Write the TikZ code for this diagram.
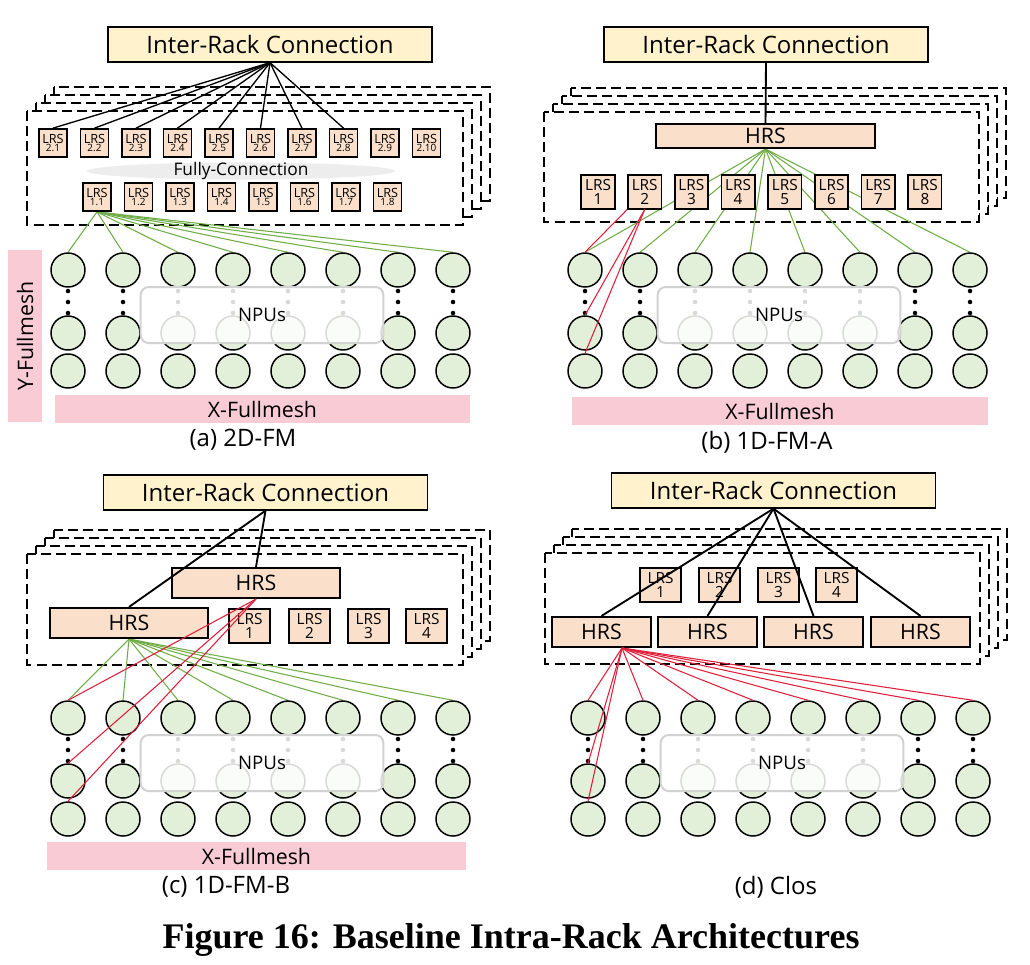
\documentclass[tikz,border=0pt]{standalone}
\usepackage{fontspec}
\setmainfont{Open Sans}
\newfontfamily\titlefont{Liberation Serif}
\definecolor{npug}{HTML}{E2F0D9}
\definecolor{peach}{HTML}{FAE0CB}
\definecolor{ylw}{HTML}{FFF2CC}
\definecolor{pinkb}{HTML}{F8CBD5}
\definecolor{gline}{HTML}{70AD47}
\definecolor{rline}{HTML}{E0203A}
\pgfdeclarelayer{bg}\pgfdeclarelayer{ln}\pgfsetlayers{bg,ln,main}
\tikzset{
 inter/.style={draw,line width=1.2pt,fill=ylw,minimum width=243pt,minimum height=26pt,inner sep=0,font=\fontsize{18}{20}\selectfont},
 lrsa/.style={draw,line width=1.3pt,fill=peach,inner sep=0,align=center,minimum size=21pt,font=\fontsize{9.5}{8}\selectfont},
 lrsb/.style={draw,line width=1.3pt,fill=peach,inner sep=0,align=center,minimum size=25pt,font=\fontsize{11.5}{11}\selectfont},
 lrsc/.style={draw,line width=1.3pt,fill=peach,inner sep=0,align=center,minimum width=31pt,minimum height=25.5pt,font=\fontsize{11.5}{11}\selectfont},
 hrs/.style={draw,line width=1.6pt,fill=peach,inner sep=0,minimum height=22.5pt,font=\fontsize{16}{18}\selectfont},
 dbox/.style={draw,line width=1.6pt,dash pattern=on 7.5pt off 3.8pt,fill=white},
 npu/.style={circle,draw,line width=1.1pt,fill=npug,minimum size=25.5pt,inner sep=0},
 nbox/.style={draw=gray!35,line width=1.5pt,rounded corners=6pt,fill=white,fill opacity=0.85,text opacity=1,minimum width=182pt,minimum height=42pt,font=\fontsize{14}{16}\selectfont},
 xbar/.style={fill=pinkb,inner sep=0,minimum height=21pt,font=\fontsize{16}{18}\selectfont},
 captxt/.style={font=\fontsize{18}{20}\selectfont},
 blk/.style={line width=1.4pt},
 gl/.style={gline,line width=0.8pt},
 rl/.style={rline,line width=0.8pt}
}
\newcommand\stackbox[4]{%
 \begin{pgfonlayer}{bg}
 \foreach \k in {3,2,1,0}{\draw[dbox] ({#1+9*\k},{#2-8*\k}) rectangle ({#3+9*\k},{#4-8*\k});}
 \end{pgfonlayer}}
\newcommand\npugrid[3]{%
 \foreach \c in {1,...,8}{
  \node[npu] (#1-1-\c) at ({#2+55*(\c-1)},#3) {};
  \node[npu] (#1-2-\c) at ({#2+55*(\c-1)},{#3+63}) {};
  \node[npu] (#1-3-\c) at ({#2+55*(\c-1)},{#3+101}) {};
  \foreach \d in {21,32,43}\fill ({#2+55*(\c-1)},{#3+\d}) circle[radius=1.7pt];
 }
 \node[nbox] (#1-box) at ({#2+194},{#3+45}) {NPUs};}
\begin{document}
\begin{tikzpicture}[x=0.75pt,y=-0.75pt]
\useasboundingbox (0,0) rectangle (1030,964);
% ---------- (a)
\node[inter] (a-ir) at (270,44.5) {Inter-Rack Connection};
\stackbox{27}{111}{463}{225}
\fill[gray!14] (241,171) ellipse [x radius=115.5pt, y radius=6.4pt];
\node[font=\fontsize{13}{14}\selectfont] (a-fc) at (241,171) {Fully-Connection};
\foreach \i in {1,...,10}{\node[lrsa] (a-l2-\i) at ({53+41.5*(\i-1)},143) {LRS\\[-2pt]{\fontsize{7.5}{7}\selectfont 2.\i}};}
\foreach \i in {1,...,8}{\node[lrsa] (a-l1-\i) at ({97+41.5*(\i-1)},197) {LRS\\[-2pt]{\fontsize{7.5}{7}\selectfont 1.\i}};}
\npugrid{a}{68}{270}
\begin{pgfonlayer}{ln}
\foreach \c in {1,...,8}{\draw[gl] (a-l1-1.south) -- (a-1-\c.north);}
\foreach \i in {1,...,8}{\draw[line width=1pt] (a-ir.south) -- (a-l2-\i.north);}
\end{pgfonlayer}
\node[xbar,minimum width=129pt,minimum height=25.5pt,rotate=90] (a-y) at (25,336) {Y-Fullmesh};
\node[xbar,minimum width=311pt] (a-x) at (262.5,409) {X-Fullmesh};
\node[captxt] (a-cap) at (243,440) {(a) 2D-FM};
% ---------- (b)
\node[inter] (b-ir) at (766,44.5) {Inter-Rack Connection};
\stackbox{544}{112}{979}{222}
\node[hrs,minimum width=164pt,minimum height=18pt] (b-hrs) at (765.5,136) {HRS};
\foreach \i in {1,...,8}{\node[lrsb] (b-l-\i) at ({598+46.7*(\i-1)},192) {LRS\\[-1pt]\i};}
\npugrid{b}{585}{270}
\draw[blk] (b-ir.south) -- (b-hrs.north);
\begin{pgfonlayer}{ln}
\foreach \c in {1,...,8}{\draw[gl] (b-hrs.south) -- (b-1-\c.north);}
\end{pgfonlayer}
\draw[rl] (b-l-2.south west) -- (b-1-1.north);
\draw[rl] (b-l-2.south) -- (b-2-1.north);
\draw[rl] (b-l-2.south) -- (b-3-1.north);
\node[xbar,minimum width=312pt] (b-x) at (780,411) {X-Fullmesh};
\node[captxt] (b-cap) at (767,442) {(b) 1D-FM-A};
% ---------- (c)
\node[inter] (c-ir) at (265.5,492.5) {Inter-Rack Connection};
\stackbox{27}{554}{463}{665}
\foreach \i/\x in {1/249.5,2/309.5,3/368.5,4/426.5}{\node[lrsc] (c-l-\i) at (\x,626) {LRS\\[-1pt]\i};}
\node[hrs,minimum width=126pt] (c-hu) at (256,583) {HRS};
\node[hrs,minimum width=118.5pt] (c-hl) at (129,623) {HRS};
\npugrid{c}{68}{718}
\draw[blk] (c-ir.south) -- (c-hu.north);
\draw[blk] (c-ir.south) -- (c-hl.north);
\begin{pgfonlayer}{ln}
\foreach \c in {1,...,8}{\draw[gl] (c-hl.south) -- (c-1-\c.north);}
\end{pgfonlayer}
\foreach \r in {1,2,3}{\draw[rl] (c-hu.south) -- (c-\r-1.north);}
\node[xbar,minimum width=314pt] (c-x) at (256.5,856) {X-Fullmesh};
\node[captxt] (c-cap) at (226,887) {(c) 1D-FM-B};
% ---------- (d)
\node[inter] (d-ir) at (773.5,490.5) {Inter-Rack Connection};
\stackbox{545}{553}{980}{664}
\foreach \i/\x in {1/660.5,2/719.5,3/778.5,4/836.5}{\node[lrsc] (d-l-\i) at (\x,585) {LRS\\[-1pt]\i};}
\foreach \i/\x in {1/601.5,2/707.5,3/813.5,4/920.5}{\node[hrs,minimum width=74pt] (d-h\i) at (\x,632) {HRS};}
\npugrid{d}{588}{718}
\foreach \i in {1,...,4}{\draw[blk] (d-ir.south) -- (d-h\i.north);}
\coordinate (d-rs) at (622,648);
\foreach \c in {1,...,8}{\draw[rl] (d-rs) -- (d-1-\c.north);}
\draw[rl] (d-rs) -- (d-2-1.north);
\draw[rl] (d-rs) -- (d-3-1.north);
\node[captxt] (d-cap) at (776,887) {(d) Clos};
% ---------- title
\node[font=\titlefont\bfseries\fontsize{27}{30}\selectfont] (title) at (511,940) {Figure 16: Baseline Intra-Rack Architectures};
\end{tikzpicture}
\end{document}
